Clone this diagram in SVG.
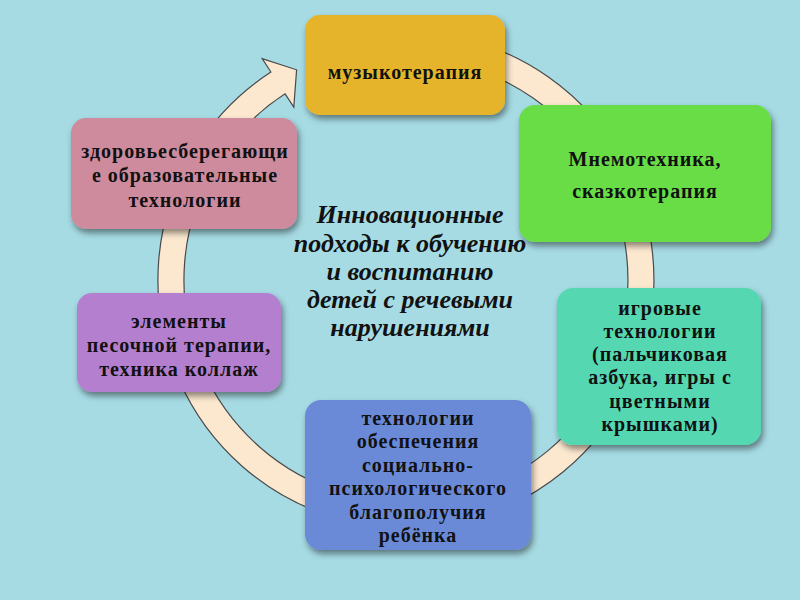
<svg xmlns="http://www.w3.org/2000/svg" width="800" height="600" viewBox="0 0 800 600">
<defs>
<filter id="sh" x="-10%" y="-10%" width="125%" height="130%">
<feDropShadow dx="2" dy="4" stdDeviation="3" flood-color="#000" flood-opacity="0.45"/>
</filter>
<style>
.n{filter:url(#sh);}
.t{font-family:"Liberation Serif","Times New Roman",serif;font-weight:bold;font-size:20px;letter-spacing:1px;fill:#111;text-anchor:middle;}
.c{font-family:"Liberation Serif","Times New Roman",serif;font-weight:bold;font-style:italic;font-size:26px;fill:#111;text-anchor:middle;}
.ring{fill:#fbe8cf;stroke:#4a4a4a;stroke-width:1.2;}
</style>
</defs>
<rect width="800" height="600" fill="#a6dbe4"/>
<g id="connectors">
<path class="ring" d="M449.1,35.8 A248,248 0 1 1 270.9,72.0 L262.2,58.6 L296.6,69.8 L293.8,107.2 L285.1,93.8 A222,222 0 1 0 444.5,61.4 Z"/>
</g>
<g id="center-title">
<text class="c" x="410" y="223">Инновационные</text>
<text class="c" x="410" y="252">подходы к обучению</text>
<text class="c" x="410" y="280">и воспитанию</text>
<text class="c" x="410" y="308">детей с речевыми</text>
<text class="c" x="410" y="336">нарушениями</text>
</g>
<g id="node-music">
<rect class="n" x="305" y="15" width="200" height="100" rx="15" fill="#e6b42a"/>
<text class="t" x="405" y="79">музыкотерапия</text>
</g>
<g id="node-mnemo">
<rect class="n" x="519" y="105" width="252" height="137" rx="16" fill="#67dd45"/>
<text class="t" x="645" y="166">Мнемотехника,</text>
<text class="t" x="645" y="198">сказкотерапия</text>
</g>
<g id="node-games">
<rect class="n" x="557" y="288" width="204" height="157" rx="16" fill="#54d8b1"/>
<text class="t" x="660" y="315">игровые</text>
<text class="t" x="660" y="338">технологии</text>
<text class="t" x="660" y="361">(пальчиковая</text>
<text class="t" x="660" y="384">азбука, игры с</text>
<text class="t" x="660" y="408">цветными</text>
<text class="t" x="660" y="431">крышками)</text>
</g>
<g id="node-social">
<rect class="n" x="305" y="400" width="226" height="150" rx="16" fill="#6a8ad8"/>
<text class="t" x="418" y="425">технологии</text>
<text class="t" x="418" y="448">обеспечения</text>
<text class="t" x="418" y="472">социально-</text>
<text class="t" x="418" y="495">психологического</text>
<text class="t" x="418" y="519">благополучия</text>
<text class="t" x="418" y="542">ребёнка</text>
</g>
<g id="node-sand">
<rect class="n" x="77" y="293" width="204" height="99" rx="15" fill="#b57fd0"/>
<text class="t" x="179" y="328">элементы</text>
<text class="t" x="179" y="352">песочной терапии,</text>
<text class="t" x="179" y="376">техника коллаж</text>
</g>
<g id="node-health">
<rect class="n" x="71" y="118" width="226" height="111" rx="15" fill="#cd8b9d"/>
<text class="t" x="185" y="158">здоровьесберегающи</text>
<text class="t" x="185" y="182">е образовательные</text>
<text class="t" x="185" y="207">технологии</text>
</g>
</svg>
